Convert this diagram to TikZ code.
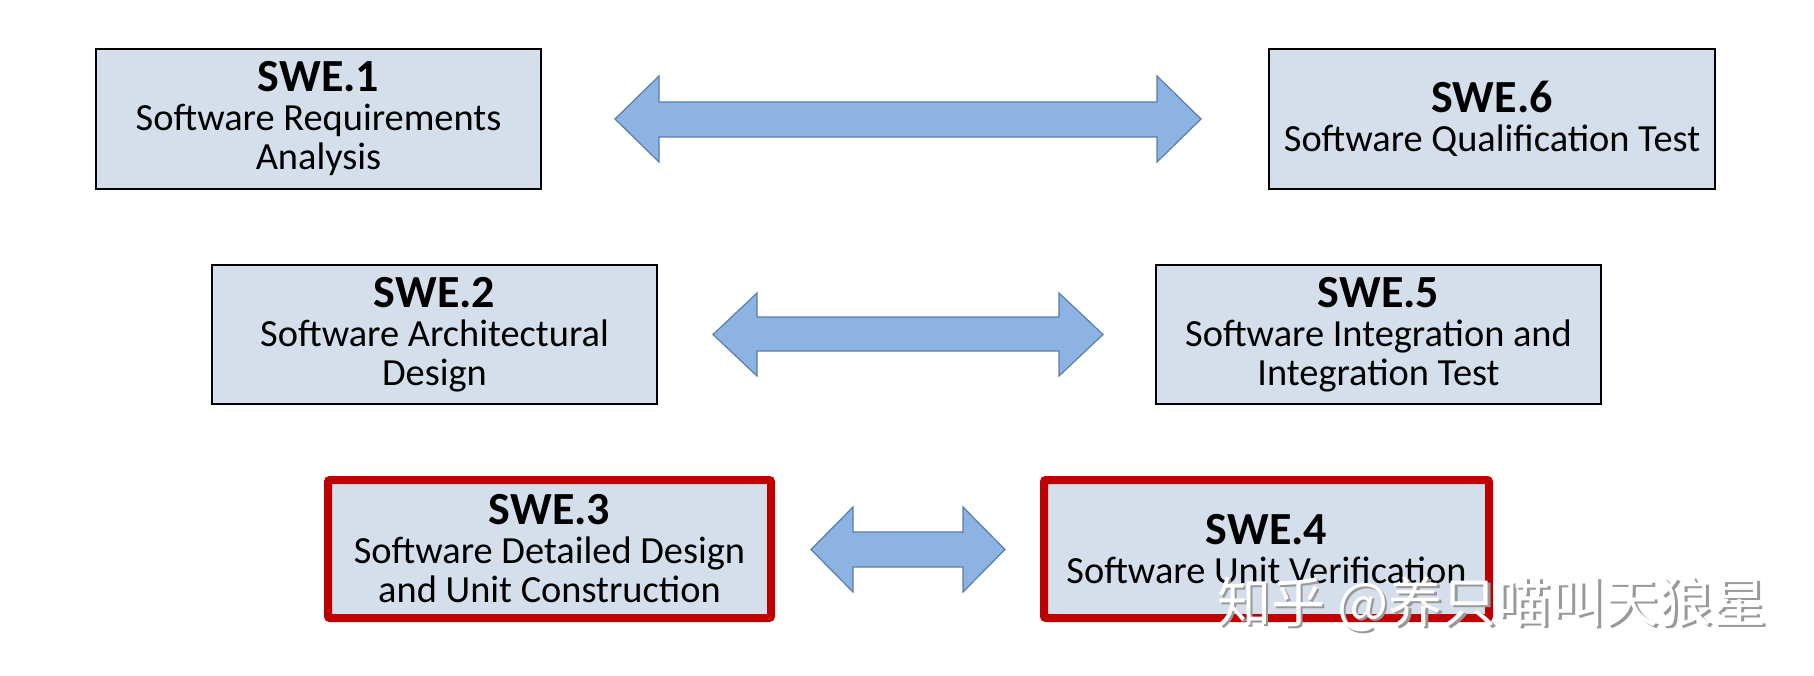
\documentclass[tikz,border=0pt]{standalone}
\usepackage{fontspec}
\setmainfont{Carlito}
\newfontfamily\cjk{Noto Sans CJK SC}
\definecolor{boxfill}{HTML}{D5DFEB}
\definecolor{arrfill}{HTML}{8DB3E2}
\definecolor{arrdraw}{HTML}{5A7DAA}
\definecolor{redb}{HTML}{C00000}
\begin{document}
\begin{tikzpicture}[x=0.5pt,y=-0.5pt,
  box/.style={draw=black,line width=1.2pt,fill=boxfill,align=center,inner sep=0pt,font=\fontsize{19.2}{19.5}\selectfont},
  rbox/.style={box,draw=redb,line width=4pt,rounded corners=1pt},
  arr/.style={fill=arrfill,draw=arrdraw,line width=0.6pt}]
\useasboundingbox (0,0) rectangle (1814,675);
\newcommand\ttl[1]{{\fontsize{23}{23}\selectfont\bfseries #1}\\}
\node[box,minimum width=222.5pt,minimum height=70pt] (s1) at (318.5,119) {\ttl{SWE.1}Software Requirements\\Analysis};
\node[box,minimum width=223pt,minimum height=70pt] (s6) at (1492,119) {\ttl{SWE.6}Software Qualification Test};
\node[box,minimum width=222.5pt,minimum height=69.5pt] (s2) at (434.5,334.5) {\ttl{SWE.2}Software Architectural\\Design};
\node[box,minimum width=222.5pt,minimum height=69.5pt] (s5) at (1378.5,334.5) {\ttl{SWE.5}Software Integration and\\Integration Test};
\node[rbox,minimum width=221.5pt,minimum height=69pt] (s3) at (549.5,549) {\ttl{SWE.3}Software Detailed Design\\and Unit Construction};
\node[rbox,minimum width=222.5pt,minimum height=69pt] (s4) at (1266.5,549) {\ttl{SWE.4}Software Unit Verification};
% arrows
\draw[arr] (615,119) -- (659,76) -- (659,102) -- (1157,102) -- (1157,76) -- (1201,119) -- (1157,162) -- (1157,137) -- (659,137) -- (659,162) -- cycle;
\draw[arr] (713,334.5) -- (757,293) -- (757,317) -- (1059,317) -- (1059,293) -- (1103,334.5) -- (1059,376) -- (1059,351) -- (757,351) -- (757,376) -- cycle;
\draw[arr] (811,549.5) -- (853,507) -- (853,532) -- (963,532) -- (963,507) -- (1005,549.5) -- (963,592) -- (963,567) -- (853,567) -- (853,592) -- cycle;
\coordinate (wm) at (1492,604);
\node[text=gray!80,font=\cjk\fontsize{27}{28}\selectfont] at ([xshift=1.2pt,yshift=-1.2pt]wm) {知乎 @养只喵叫天狼星};
\node[text=white,font=\cjk\fontsize{27}{28}\selectfont] (w) at (wm) {知乎 @养只喵叫天狼星};
\end{tikzpicture}
\end{document}
